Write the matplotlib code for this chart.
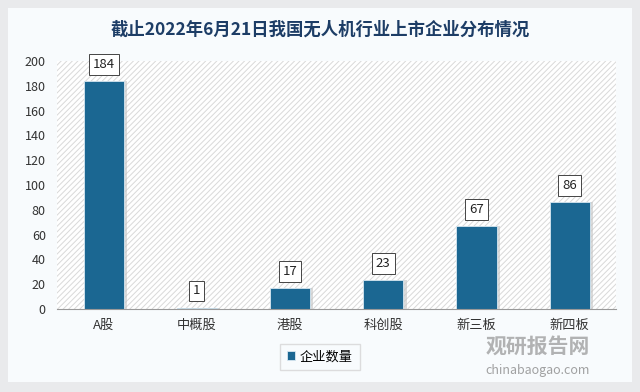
import matplotlib
matplotlib.use("Agg")
import matplotlib.pyplot as plt
from matplotlib.patches import Rectangle

plt.rcParams["font.family"] = ["Noto Sans CJK SC", "DejaVu Sans"]
plt.rcParams["hatch.linewidth"] = 0.7

categories = ["A股", "中概股", "港股", "科创股", "新三板", "新四板"]
counts = [184, 1, 17, 23, 67, 86]
yticks = [0, 20, 40, 60, 80, 100, 120, 140, 160, 180, 200]

C_BAR = "#1b6792"
C_TITLE = "#1d3d66"

fig = plt.figure(figsize=(6.4, 3.92), dpi=100, facecolor="#e9eaec")
bg = fig.add_axes([0, 0, 1, 1]); bg.set_xlim(0, 1); bg.set_ylim(0, 1); bg.axis("off")
bg.add_patch(Rectangle((0.012, 0.025), 0.976, 0.955, facecolor="#f8fbfd", edgecolor="none"))
bg.text(0.5, 0.925, "截止2022年6月21日我国无人机行业上市企业分布情况", ha="center", va="center",
        fontsize=12.5, weight="bold", color=C_TITLE)

# watermark (drawn under the chart)
bg.text(0.84, 0.118, "观研报告网", ha="center", va="center", fontsize=15, weight="bold",
        color="#9a9a9a", alpha=0.75)
bg.text(0.84, 0.055, "chinabaogao.com", ha="center", va="center", fontsize=9,
        color="#8a8a8a", alpha=0.8)

ax = fig.add_axes([0.089, 0.212, 0.874, 0.632])
ax.set_facecolor("none")
ax.add_patch(Rectangle((0, 0), 1, 1, transform=ax.transAxes, facecolor="white",
                       edgecolor="#d9d9d9", hatch="//////", lw=0, zorder=0))
x = list(range(len(categories)))
ax.bar([i + 0.035 for i in x], counts, 0.43, color="#c4c4c4", alpha=0.6, zorder=1)
bars = ax.bar(x, counts, 0.43, color=C_BAR, edgecolor="#d8e8f2", lw=0.6, zorder=2, label="企业数量")
for xi, v in zip(x, counts):
    ax.annotate(str(v), (xi, v), xytext=(0, 12), textcoords="offset points", ha="center", va="center",
                fontsize=9.5, color="#222222", zorder=4,
                bbox=dict(boxstyle="square,pad=0.3", facecolor="white", edgecolor="#444444", lw=0.7))

ax.set_xlim(-0.5, len(categories) - 0.5)
ax.set_ylim(0, 200)
ax.set_yticks(yticks)
ax.set_xticks(x)
ax.set_xticklabels(categories, fontsize=9.5, color="#333333")
ax.tick_params(axis="y", length=0, labelsize=9, colors="#333333", pad=8)
ax.tick_params(axis="x", length=0, pad=7)
for s in ("top", "right", "left"):
    ax.spines[s].set_visible(False)
ax.spines["bottom"].set_color("#999999")

leg = fig.legend(handles=[bars], labels=["企业数量"], loc="center", bbox_to_anchor=(0.5, 0.09),
                 fontsize=9.5, frameon=True, handlelength=0.6, handleheight=0.6, handletextpad=0.4,
                 fancybox=False, borderpad=0.5)
leg.get_frame().set_edgecolor("#d5d5d5")
leg.get_frame().set_facecolor("#f8fbfd")

fig.savefig("out.png", dpi=100, facecolor=fig.get_facecolor())
